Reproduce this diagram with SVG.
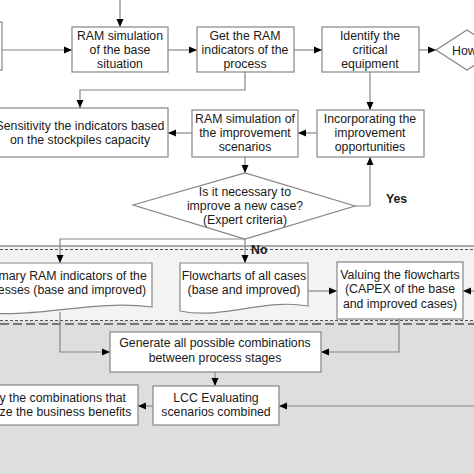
<svg xmlns="http://www.w3.org/2000/svg" width="474" height="474" viewBox="0 0 474 474">
<defs>
<marker id="ah" markerUnits="userSpaceOnUse" markerWidth="8" markerHeight="8" refX="8" refY="4" orient="auto">
<path d="M0,0.5 L8,4 L0,7.5 z" fill="#000"/>
</marker>
<style>
.box{fill:#fff;stroke:#858585;stroke-width:1.2}
.t{font-family:"Liberation Sans",Arial,sans-serif;font-size:12.3px;fill:#1a1a1a;text-anchor:middle}
.b{font-family:"Liberation Sans",Arial,sans-serif;font-size:12.3px;font-weight:bold;fill:#1a1a1a}
.c{fill:none;stroke:#858585;stroke-width:1.2;marker-end:url(#ah)}
.cl{fill:none;stroke:#858585;stroke-width:1.2}
</style>
</defs>
<rect x="0" y="0" width="474" height="474" fill="#fff"/>
<g id="bands">
<rect x="0" y="247" width="474" height="74" fill="#f3f3f3"/>
<rect x="0" y="321" width="474" height="153" fill="#dedede"/>
<line x1="0" y1="246" x2="474" y2="246" stroke="#555" stroke-width="1"/>
<line x1="0" y1="249.5" x2="474" y2="249.5" stroke="#555" stroke-width="1" stroke-dasharray="3,2"/>
<line x1="0" y1="320.5" x2="474" y2="320.5" stroke="#555" stroke-width="1" stroke-dasharray="3,2"/>
<line x1="0" y1="324" x2="474" y2="324" stroke="#555" stroke-width="1.6" stroke-dasharray="9,4"/>
</g>
<g id="connectors">
<line class="c" x1="120" y1="0" x2="120" y2="27"/>
<line class="c" x1="2" y1="50" x2="72" y2="50"/>
<line class="c" x1="168" y1="50" x2="197" y2="50"/>
<line class="c" x1="294" y1="50" x2="322" y2="50"/>
<line class="c" x1="419" y1="50" x2="436" y2="50"/>
<polyline class="c" points="245,72 245,90 80,90 80,108"/>
<line class="c" x1="370" y1="72" x2="370" y2="110"/>
<line class="c" x1="317" y1="133" x2="298" y2="133"/>
<line class="c" x1="192" y1="133" x2="168" y2="133"/>
<line class="c" x1="245" y1="157" x2="245" y2="173"/>
<polyline class="c" points="355,206 370,206 370,157"/>
<line class="c" x1="245" y1="239" x2="245" y2="263"/>
<polyline class="c" points="245,239 60,239 60,263"/>
<line class="c" x1="308" y1="291" x2="337" y2="291"/>
<line class="c" x1="474" y1="291" x2="463" y2="291"/>
<polyline class="c" points="60,312 60,352 110,352"/>
<polyline class="c" points="399,319 399,352 321,352"/>
<line class="c" x1="215" y1="372" x2="215" y2="386"/>
<line class="c" x1="153" y1="406" x2="138" y2="406"/>
<line class="c" x1="474" y1="406" x2="279" y2="406"/>
</g>
<g id="n_left">
<rect class="box" x="-100" y="22" width="102" height="48"/>
</g>
<g id="n_base">
<rect class="box" x="72" y="27" width="96" height="45"/>
<text class="t" x="120" y="40">RAM simulation</text>
<text class="t" x="120" y="54">of the base</text>
<text class="t" x="120" y="68">situation</text>
</g>
<g id="n_get">
<rect class="box" x="197" y="27" width="97" height="45"/>
<text class="t" x="245" y="40">Get the RAM</text>
<text class="t" x="245" y="54">indicators of the</text>
<text class="t" x="245" y="68">process</text>
</g>
<g id="n_identify">
<rect class="box" x="322" y="27" width="97" height="45"/>
<text class="t" x="370" y="40">Identify the</text>
<text class="t" x="370" y="54">critical</text>
<text class="t" x="370" y="68">equipment</text>
</g>
<g id="n_how">
<polygon class="box" points="436,50 467,30 498,50 467,70"/>
<text class="t" x="452" y="55" style="text-anchor:start">How</text>
</g>
<g id="n_sens">
<rect class="box" x="-20" y="108" width="188" height="49"/>
<text class="t" x="80" y="130">Sensitivity the indicators based</text>
<text class="t" x="80" y="144">on the stockpiles capacity</text>
</g>
<g id="n_ramimp">
<rect class="box" x="192" y="110" width="106" height="47"/>
<text class="t" x="245" y="123">RAM simulation of</text>
<text class="t" x="245" y="137">the improvement</text>
<text class="t" x="245" y="151">scenarios</text>
</g>
<g id="n_incorp">
<rect class="box" x="317" y="110" width="107" height="47"/>
<text class="t" x="370" y="123">Incorporating the</text>
<text class="t" x="370" y="137">improvement</text>
<text class="t" x="370" y="151">opportunities</text>
</g>
<g id="n_decision">
<polygon class="box" points="133,205 245,173 355,206 245,239"/>
<text class="t" x="245" y="196">Is it necessary to</text>
<text class="t" x="245" y="210">improve a new case?</text>
<text class="t" x="245" y="224">(Expert criteria)</text>
</g>
<g id="labels">
<text class="b" x="386" y="203">Yes</text>
<text class="b" x="251" y="254">No</text>
</g>
<g id="n_summary">
<path class="box" d="M-30,263 H152 V307 C88,299 34,321 -30,311 Z"/>
<text class="t" x="60" y="280">Summary RAM indicators of the</text>
<text class="t" x="60" y="294">processes (base and improved)</text>
</g>
<g id="n_flow">
<path class="box" d="M180,263 H308 V306 C263,298 225,320 180,311 Z"/>
<text class="t" x="244" y="280">Flowcharts of all cases</text>
<text class="t" x="244" y="294">(base and improved)</text>
</g>
<g id="n_valuing">
<rect class="box" x="337" y="262" width="126" height="57"/>
<text class="t" x="400" y="279">Valuing the flowcharts</text>
<text class="t" x="400" y="293">(CAPEX of the base</text>
<text class="t" x="400" y="308">and improved cases)</text>
</g>
<g id="n_generate">
<rect class="box" x="110" y="332" width="211" height="40"/>
<text class="t" x="215" y="347">Generate all possible combinations</text>
<text class="t" x="215" y="362">between process stages</text>
</g>
<g id="n_lcc">
<rect class="box" x="153" y="386" width="126" height="39"/>
<text class="t" x="216" y="402">LCC Evaluating</text>
<text class="t" x="216" y="416">scenarios combined</text>
</g>
<g id="n_identcomb">
<rect class="box" x="-50" y="385" width="188" height="40"/>
<text class="t" x="46" y="402">Identify the combinations that</text>
<text class="t" x="46" y="416">maximize the business benefits</text>
</g>
</svg>
